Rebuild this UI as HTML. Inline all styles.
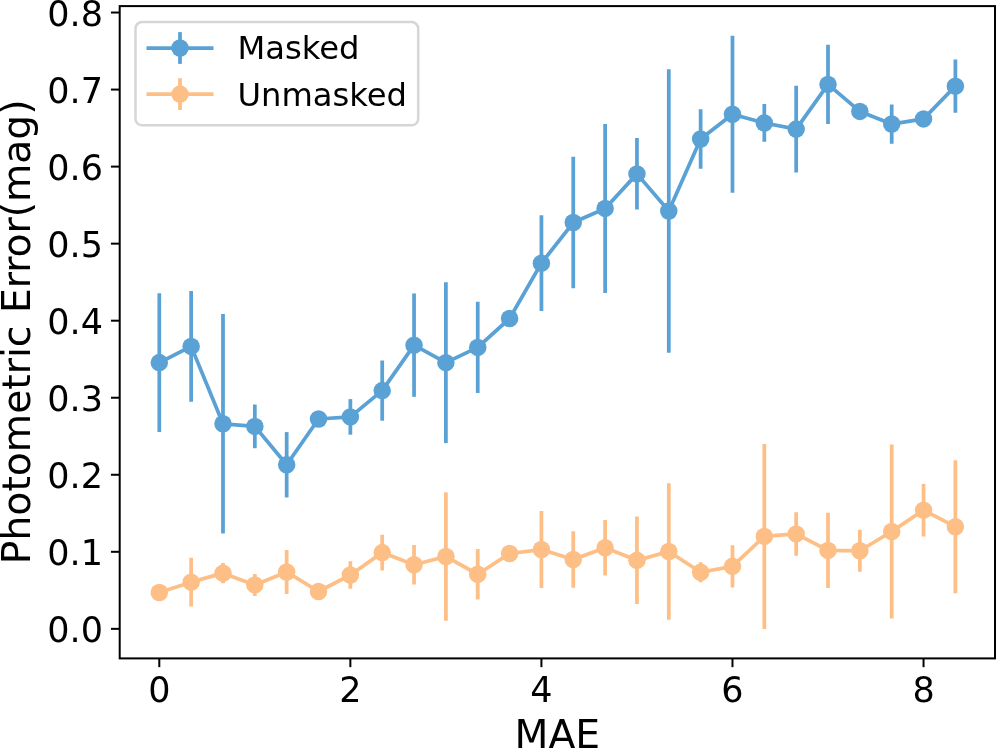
<!DOCTYPE html>
<html><head><meta charset="utf-8"><title>Photometric Error vs MAE</title>
<style>html,body{margin:0;padding:0;background:#fff;}body{width:997px;height:749px;overflow:hidden;}svg{display:block;}</style>
</head><body><svg width="997" height="749" viewBox="0 0 997 749"><rect x="0" y="0" width="997" height="749" fill="#fff"/><defs><clipPath id="ax"><rect x="119.7" y="6.1" width="875.3" height="652.3"/></clipPath></defs><g clip-path="url(#ax)"><g stroke="#5aa2d5" stroke-width="3.75" stroke-linecap="butt"><line x1="159.30" y1="293.18" x2="159.30" y2="432.07"/><line x1="191.14" y1="291.10" x2="191.14" y2="401.70"/><line x1="222.99" y1="314.02" x2="222.99" y2="533.52"/><line x1="254.83" y1="404.60" x2="254.83" y2="448.20"/><line x1="286.67" y1="432.10" x2="286.67" y2="497.50"/><line x1="350.36" y1="399.10" x2="350.36" y2="434.70"/><line x1="382.20" y1="360.50" x2="382.20" y2="420.70"/><line x1="414.05" y1="293.45" x2="414.05" y2="396.85"/><line x1="445.89" y1="282.23" x2="445.89" y2="443.12"/><line x1="477.73" y1="301.73" x2="477.73" y2="393.02"/><line x1="541.42" y1="215.32" x2="541.42" y2="311.03"/><line x1="573.26" y1="156.85" x2="573.26" y2="288.25"/><line x1="605.11" y1="123.88" x2="605.11" y2="292.98"/><line x1="636.95" y1="138.12" x2="636.95" y2="209.62"/><line x1="668.79" y1="69.25" x2="668.79" y2="352.85"/><line x1="700.64" y1="109.35" x2="700.64" y2="168.75"/><line x1="732.48" y1="35.70" x2="732.48" y2="192.70"/><line x1="764.32" y1="104.12" x2="764.32" y2="141.83"/><line x1="796.17" y1="85.70" x2="796.17" y2="172.50"/><line x1="828.01" y1="44.77" x2="828.01" y2="124.07"/><line x1="891.70" y1="104.44" x2="891.70" y2="143.69"/><line x1="955.38" y1="59.55" x2="955.38" y2="112.75"/></g><polyline points="159.30,362.62 191.14,346.40 222.99,423.77 254.83,426.40 286.67,464.80 318.52,419.00 350.36,416.90 382.20,390.60 414.05,345.15 445.89,362.68 477.73,347.38 509.58,318.50 541.42,263.18 573.26,222.55 605.11,208.43 636.95,173.88 668.79,211.05 700.64,139.05 732.48,114.20 764.32,122.98 796.17,129.10 828.01,84.42 859.85,111.40 891.70,124.06 923.54,118.90 955.38,86.15" fill="none" stroke="#5aa2d5" stroke-width="3.75" stroke-linejoin="round" stroke-linecap="square"/><g fill="#5aa2d5"><circle cx="159.30" cy="362.62" r="8.75"/><circle cx="191.14" cy="346.40" r="8.75"/><circle cx="222.99" cy="423.77" r="8.75"/><circle cx="254.83" cy="426.40" r="8.75"/><circle cx="286.67" cy="464.80" r="8.75"/><circle cx="318.52" cy="419.00" r="8.75"/><circle cx="350.36" cy="416.90" r="8.75"/><circle cx="382.20" cy="390.60" r="8.75"/><circle cx="414.05" cy="345.15" r="8.75"/><circle cx="445.89" cy="362.68" r="8.75"/><circle cx="477.73" cy="347.38" r="8.75"/><circle cx="509.58" cy="318.50" r="8.75"/><circle cx="541.42" cy="263.18" r="8.75"/><circle cx="573.26" cy="222.55" r="8.75"/><circle cx="605.11" cy="208.43" r="8.75"/><circle cx="636.95" cy="173.88" r="8.75"/><circle cx="668.79" cy="211.05" r="8.75"/><circle cx="700.64" cy="139.05" r="8.75"/><circle cx="732.48" cy="114.20" r="8.75"/><circle cx="764.32" cy="122.98" r="8.75"/><circle cx="796.17" cy="129.10" r="8.75"/><circle cx="828.01" cy="84.42" r="8.75"/><circle cx="859.85" cy="111.40" r="8.75"/><circle cx="891.70" cy="124.06" r="8.75"/><circle cx="923.54" cy="118.90" r="8.75"/><circle cx="955.38" cy="86.15" r="8.75"/></g><g stroke="#fdbf86" stroke-width="3.75" stroke-linecap="butt"><line x1="191.14" y1="557.82" x2="191.14" y2="606.52"/><line x1="222.99" y1="563.12" x2="222.99" y2="583.22"/><line x1="254.83" y1="573.97" x2="254.83" y2="595.88"/><line x1="286.67" y1="549.95" x2="286.67" y2="593.95"/><line x1="350.36" y1="561.20" x2="350.36" y2="588.80"/><line x1="382.20" y1="534.80" x2="382.20" y2="570.40"/><line x1="414.05" y1="545.00" x2="414.05" y2="584.60"/><line x1="445.89" y1="492.35" x2="445.89" y2="620.75"/><line x1="477.73" y1="548.95" x2="477.73" y2="599.55"/><line x1="541.42" y1="510.97" x2="541.42" y2="588.08"/><line x1="573.26" y1="531.30" x2="573.26" y2="587.70"/><line x1="605.11" y1="519.98" x2="605.11" y2="575.48"/><line x1="636.95" y1="516.58" x2="636.95" y2="604.08"/><line x1="668.79" y1="483.25" x2="668.79" y2="619.85"/><line x1="700.64" y1="562.33" x2="700.64" y2="582.22"/><line x1="732.48" y1="545.28" x2="732.48" y2="587.38"/><line x1="764.32" y1="443.90" x2="764.32" y2="628.90"/><line x1="796.17" y1="512.17" x2="796.17" y2="555.67"/><line x1="828.01" y1="512.77" x2="828.01" y2="588.07"/><line x1="859.85" y1="529.83" x2="859.85" y2="571.72"/><line x1="891.70" y1="444.43" x2="891.70" y2="618.53"/><line x1="923.54" y1="483.85" x2="923.54" y2="536.45"/><line x1="955.38" y1="460.15" x2="955.38" y2="593.35"/></g><polyline points="159.30,592.50 191.14,582.17 222.99,573.17 254.83,584.92 286.67,571.95 318.52,591.50 350.36,575.00 382.20,552.60 414.05,564.80 445.89,556.55 477.73,574.25 509.58,553.50 541.42,549.52 573.26,559.50 605.11,547.73 636.95,560.33 668.79,551.55 700.64,572.27 732.48,566.33 764.32,536.40 796.17,533.92 828.01,550.42 859.85,550.77 891.70,531.48 923.54,510.15 955.38,526.75" fill="none" stroke="#fdbf86" stroke-width="3.75" stroke-linejoin="round" stroke-linecap="square"/><g fill="#fdbf86"><circle cx="159.30" cy="592.50" r="8.75"/><circle cx="191.14" cy="582.17" r="8.75"/><circle cx="222.99" cy="573.17" r="8.75"/><circle cx="254.83" cy="584.92" r="8.75"/><circle cx="286.67" cy="571.95" r="8.75"/><circle cx="318.52" cy="591.50" r="8.75"/><circle cx="350.36" cy="575.00" r="8.75"/><circle cx="382.20" cy="552.60" r="8.75"/><circle cx="414.05" cy="564.80" r="8.75"/><circle cx="445.89" cy="556.55" r="8.75"/><circle cx="477.73" cy="574.25" r="8.75"/><circle cx="509.58" cy="553.50" r="8.75"/><circle cx="541.42" cy="549.52" r="8.75"/><circle cx="573.26" cy="559.50" r="8.75"/><circle cx="605.11" cy="547.73" r="8.75"/><circle cx="636.95" cy="560.33" r="8.75"/><circle cx="668.79" cy="551.55" r="8.75"/><circle cx="700.64" cy="572.27" r="8.75"/><circle cx="732.48" cy="566.33" r="8.75"/><circle cx="764.32" cy="536.40" r="8.75"/><circle cx="796.17" cy="533.92" r="8.75"/><circle cx="828.01" cy="550.42" r="8.75"/><circle cx="859.85" cy="550.77" r="8.75"/><circle cx="891.70" cy="531.48" r="8.75"/><circle cx="923.54" cy="510.15" r="8.75"/><circle cx="955.38" cy="526.75" r="8.75"/></g></g><rect x="119.7" y="6.1" width="875.30" height="652.30" fill="none" stroke="#000" stroke-width="2.0" stroke-linejoin="miter"/><g stroke="#000" stroke-width="2.0"><line x1="110.95" y1="628.85" x2="119.70" y2="628.85"/><line x1="110.95" y1="551.81" x2="119.70" y2="551.81"/><line x1="110.95" y1="474.77" x2="119.70" y2="474.77"/><line x1="110.95" y1="397.73" x2="119.70" y2="397.73"/><line x1="110.95" y1="320.69" x2="119.70" y2="320.69"/><line x1="110.95" y1="243.65" x2="119.70" y2="243.65"/><line x1="110.95" y1="166.61" x2="119.70" y2="166.61"/><line x1="110.95" y1="89.57" x2="119.70" y2="89.57"/><line x1="110.95" y1="12.53" x2="119.70" y2="12.53"/><line x1="159.30" y1="658.40" x2="159.30" y2="667.15"/><line x1="350.36" y1="658.40" x2="350.36" y2="667.15"/><line x1="541.42" y1="658.40" x2="541.42" y2="667.15"/><line x1="732.48" y1="658.40" x2="732.48" y2="667.15"/><line x1="923.54" y1="658.40" x2="923.54" y2="667.15"/></g><g font-family="DejaVu Sans, sans-serif" font-size="35" fill="#000"><text x="103.0" y="641.95" text-anchor="end">0.0</text><text x="103.0" y="564.91" text-anchor="end">0.1</text><text x="103.0" y="487.87" text-anchor="end">0.2</text><text x="103.0" y="410.83" text-anchor="end">0.3</text><text x="103.0" y="333.79" text-anchor="end">0.4</text><text x="103.0" y="256.75" text-anchor="end">0.5</text><text x="103.0" y="179.71" text-anchor="end">0.6</text><text x="103.0" y="102.67" text-anchor="end">0.7</text><text x="103.0" y="25.63" text-anchor="end">0.8</text><text x="159.30" y="702.1" text-anchor="middle">0</text><text x="350.36" y="702.1" text-anchor="middle">2</text><text x="541.42" y="702.1" text-anchor="middle">4</text><text x="732.48" y="702.1" text-anchor="middle">6</text><text x="923.54" y="702.1" text-anchor="middle">8</text></g><text x="557.35" y="748.1" text-anchor="middle" font-family="DejaVu Sans, sans-serif" font-size="39.3">MAE</text><text transform="translate(29.9,331.8) rotate(-90)" x="0" y="0" text-anchor="middle" font-family="DejaVu Sans, sans-serif" font-size="39.3">Photometric Error(mag)</text><rect x="135.5" y="22.1" width="282.70" height="103.10" rx="6.5" ry="6.5" fill="#fff" fill-opacity="0.8" stroke="#d6d6d6" stroke-width="2.5"/><line x1="146.5" y1="48.0" x2="213.5" y2="48.0" stroke="#5aa2d5" stroke-width="3.75"/><line x1="180" y1="32.1" x2="180" y2="63.9" stroke="#5aa2d5" stroke-width="3.75"/><circle cx="180" cy="48.0" r="8.75" fill="#5aa2d5"/><text x="237.5" y="59.30" font-family="DejaVu Sans, sans-serif" font-size="32.2">Masked</text><line x1="146.5" y1="94.1" x2="213.5" y2="94.1" stroke="#fdbf86" stroke-width="3.75"/><line x1="180" y1="78.19999999999999" x2="180" y2="110.0" stroke="#fdbf86" stroke-width="3.75"/><circle cx="180" cy="94.1" r="8.75" fill="#fdbf86"/><text x="237.5" y="105.80" font-family="DejaVu Sans, sans-serif" font-size="32.2">Unmasked</text></svg></body></html>
